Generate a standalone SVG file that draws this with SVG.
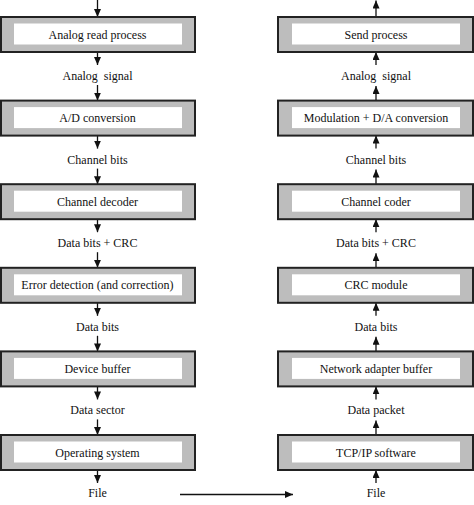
<svg xmlns="http://www.w3.org/2000/svg" width="474" height="505" viewBox="0 0 474 505">
<defs>
<marker id="ah" markerUnits="userSpaceOnUse" markerWidth="9" markerHeight="8" refX="8" refY="3.5" orient="auto">
<path d="M0,0 L8,3.5 L0,7 Z" fill="#111"/>
</marker>
</defs>
<style>
.box{fill:#bdbdbd;stroke:#222;stroke-width:2}
.in{fill:#fff}
text{font-family:"Liberation Serif","DejaVu Serif Condensed","DejaVu Serif",serif;font-size:12px;fill:#111;text-anchor:middle;white-space:pre}
.c{stroke:#111;stroke-width:1.3;fill:none;marker-end:url(#ah)}
</style>
<rect width="474" height="505" fill="#fff"/>
<g id="connectors">
<line class="c" x1="97.5" y1="0" x2="97.5" y2="17"/>
<line class="c" x1="97.5" y1="52" x2="97.5" y2="65"/>
<line class="c" x1="97.5" y1="85" x2="97.5" y2="100.6"/>
<line class="c" x1="97.5" y1="135.6" x2="97.5" y2="148.6"/>
<line class="c" x1="97.5" y1="168.6" x2="97.5" y2="184.2"/>
<line class="c" x1="97.5" y1="219.2" x2="97.5" y2="232.2"/>
<line class="c" x1="97.5" y1="252.2" x2="97.5" y2="267.8"/>
<line class="c" x1="97.5" y1="302.8" x2="97.5" y2="315.8"/>
<line class="c" x1="97.5" y1="335.8" x2="97.5" y2="351.4"/>
<line class="c" x1="97.5" y1="386.4" x2="97.5" y2="399.4"/>
<line class="c" x1="97.5" y1="419.4" x2="97.5" y2="435"/>
<line class="c" x1="97.5" y1="470" x2="97.5" y2="483"/>
<line class="c" x1="376" y1="17" x2="376" y2="0.5"/>
<line class="c" x1="376" y1="65" x2="376" y2="52"/>
<line class="c" x1="376" y1="100.6" x2="376" y2="86"/>
<line class="c" x1="376" y1="148.6" x2="376" y2="135.6"/>
<line class="c" x1="376" y1="184.2" x2="376" y2="169.6"/>
<line class="c" x1="376" y1="232.2" x2="376" y2="219.2"/>
<line class="c" x1="376" y1="267.8" x2="376" y2="253.2"/>
<line class="c" x1="376" y1="315.8" x2="376" y2="302.8"/>
<line class="c" x1="376" y1="351.4" x2="376" y2="336.8"/>
<line class="c" x1="376" y1="399.4" x2="376" y2="386.4"/>
<line class="c" x1="376" y1="435" x2="376" y2="420.4"/>
<line class="c" x1="376" y1="483" x2="376" y2="470"/>
<line class="c" x1="180" y1="494.5" x2="293" y2="494.5"/>
</g>
<g id="n1"><rect class="box" x="1" y="17" width="194" height="35"/><rect class="in" x="14" y="23.5" width="168" height="21"/><text x="97.5" y="38.5">Analog read process</text></g>
<g id="n2"><rect class="box" x="1" y="100.6" width="194" height="35"/><rect class="in" x="14" y="107.1" width="168" height="21"/><text x="97.5" y="122.1">A/D conversion</text></g>
<g id="n3"><rect class="box" x="1" y="184.2" width="194" height="35"/><rect class="in" x="14" y="190.7" width="168" height="21"/><text x="97.5" y="205.7">Channel decoder</text></g>
<g id="n4"><rect class="box" x="1" y="267.8" width="194" height="35"/><rect class="in" x="14" y="274.3" width="168" height="21"/><text x="97.5" y="289.3">Error detection (and correction)</text></g>
<g id="n5"><rect class="box" x="1" y="351.4" width="194" height="35"/><rect class="in" x="14" y="357.9" width="168" height="21"/><text x="97.5" y="372.9">Device buffer</text></g>
<g id="n6"><rect class="box" x="1" y="435" width="194" height="35"/><rect class="in" x="14" y="441.5" width="168" height="21"/><text x="97.5" y="456.5">Operating system</text></g>
<g id="m1"><rect class="box" x="278" y="17" width="195" height="35"/><rect class="in" x="292" y="23.5" width="168" height="21"/><text x="376" y="38.5">Send process</text></g>
<g id="m2"><rect class="box" x="278" y="100.6" width="195" height="35"/><rect class="in" x="292" y="107.1" width="168" height="21"/><text x="376" y="122.1">Modulation + D/A conversion</text></g>
<g id="m3"><rect class="box" x="278" y="184.2" width="195" height="35"/><rect class="in" x="292" y="190.7" width="168" height="21"/><text x="376" y="205.7">Channel coder</text></g>
<g id="m4"><rect class="box" x="278" y="267.8" width="195" height="35"/><rect class="in" x="292" y="274.3" width="168" height="21"/><text x="376" y="289.3">CRC module</text></g>
<g id="m5"><rect class="box" x="278" y="351.4" width="195" height="35"/><rect class="in" x="292" y="357.9" width="168" height="21"/><text x="376" y="372.9">Network adapter buffer</text></g>
<g id="m6"><rect class="box" x="278" y="435" width="195" height="35"/><rect class="in" x="292" y="441.5" width="168" height="21"/><text x="376" y="456.5">TCP/IP software</text></g>
<g id="labels">
<text x="97.5" y="80">Analog  signal</text>
<text x="97.5" y="163.6">Channel bits</text>
<text x="97.5" y="247.2">Data bits + CRC</text>
<text x="97.5" y="330.8">Data bits</text>
<text x="97.5" y="414.4">Data sector</text>
<text x="97.5" y="497">File</text>
<text x="376" y="80">Analog  signal</text>
<text x="376" y="163.6">Channel bits</text>
<text x="376" y="247.2">Data bits + CRC</text>
<text x="376" y="330.8">Data bits</text>
<text x="376" y="414.4">Data packet</text>
<text x="376" y="497">File</text>
</g>
</svg>
